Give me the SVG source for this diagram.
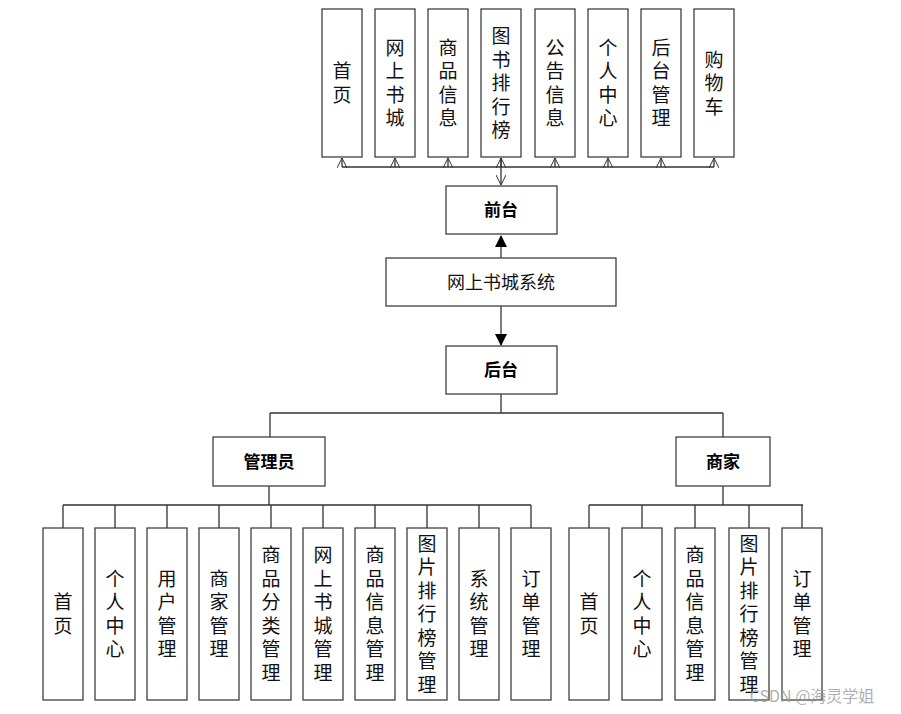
<svg xmlns="http://www.w3.org/2000/svg" width="901" height="714" viewBox="0 0 901 714">
<defs>
<style>
rect{fill:#fff;stroke:#404040;stroke-width:1.3}
.v{font-family:"Noto Sans CJK SC","Liberation Sans",sans-serif;font-size:19px;text-anchor:middle;fill:#111}
.b{font-family:"Noto Sans CJK SC","Liberation Sans",sans-serif;font-size:17px;font-weight:bold;text-anchor:middle;fill:#000}
.n{font-family:"Noto Sans CJK SC","Liberation Sans",sans-serif;font-size:18px;text-anchor:middle;fill:#111}
.c line,.c path{stroke:#333;stroke-width:1.3;fill:none}
</style>
<marker id="o" markerWidth="12" markerHeight="10" refX="10" refY="5" orient="auto" markerUnits="userSpaceOnUse"><path d="M0,0L10,5L0,10" fill="none" stroke="#333" stroke-width="1"/></marker>
<marker id="f" markerWidth="12" markerHeight="12" refX="11" refY="6" orient="auto" markerUnits="userSpaceOnUse"><path d="M0,0L12,6L0,12Z" fill="#000"/></marker>
</defs>
<g class="c">
<path d="M342,167H714"/>
<line x1="342" y1="167" x2="342" y2="158" marker-end="url(#o)"/>
<line x1="395" y1="167" x2="395" y2="158" marker-end="url(#o)"/>
<line x1="448" y1="167" x2="448" y2="158" marker-end="url(#o)"/>
<line x1="501" y1="167" x2="501" y2="158" marker-end="url(#o)"/>
<line x1="555" y1="167" x2="555" y2="158" marker-end="url(#o)"/>
<line x1="608" y1="167" x2="608" y2="158" marker-end="url(#o)"/>
<line x1="661" y1="167" x2="661" y2="158" marker-end="url(#o)"/>
<line x1="714" y1="167" x2="714" y2="158" marker-end="url(#o)"/>
<line x1="501" y1="158" x2="501" y2="185" stroke-width="2" marker-end="url(#o)"/>
<line x1="501" y1="258" x2="501" y2="236" stroke="#000" stroke-width="2" marker-end="url(#f)"/>
<line x1="501" y1="306" x2="501" y2="345" stroke="#000" stroke-width="2" marker-end="url(#f)"/>
<path d="M501,394V413M270,413H723M270,413V437M723,413V437"/>
<path d="M269,486V505M63,505H531M63,505V528M115,505V528M167,505V528M219,505V528M271,505V528M323,505V528M375,505V528M427,505V528M479,505V528M531,505V528"/>
<path d="M723,486V505M589,505H803M589,505V528M642,505V528M695,505V528M749,505V528M802,505V528"/>
</g>
<g id="top">
<rect x="322" y="9" width="40" height="148"/><text class="v" x="342" y="78"><tspan x="342">首</tspan><tspan x="342" dy="23.5">页</tspan></text>
<rect x="375" y="9" width="40" height="148"/><text class="v" x="395" y="54.75"><tspan x="395">网</tspan><tspan x="395" dy="23.5">上</tspan><tspan x="395" dy="23.5">书</tspan><tspan x="395" dy="23.5">城</tspan></text>
<rect x="428" y="9" width="40" height="148"/><text class="v" x="448" y="54.75"><tspan x="448">商</tspan><tspan x="448" dy="23.5">品</tspan><tspan x="448" dy="23.5">信</tspan><tspan x="448" dy="23.5">息</tspan></text>
<rect x="481" y="9" width="40" height="148"/><text class="v" x="501" y="43"><tspan x="501">图</tspan><tspan x="501" dy="23.5">书</tspan><tspan x="501" dy="23.5">排</tspan><tspan x="501" dy="23.5">行</tspan><tspan x="501" dy="23.5">榜</tspan></text>
<rect x="535" y="9" width="40" height="148"/><text class="v" x="555" y="54.75"><tspan x="555">公</tspan><tspan x="555" dy="23.5">告</tspan><tspan x="555" dy="23.5">信</tspan><tspan x="555" dy="23.5">息</tspan></text>
<rect x="588" y="9" width="40" height="148"/><text class="v" x="608" y="54.75"><tspan x="608">个</tspan><tspan x="608" dy="23.5">人</tspan><tspan x="608" dy="23.5">中</tspan><tspan x="608" dy="23.5">心</tspan></text>
<rect x="641" y="9" width="40" height="148"/><text class="v" x="661" y="54.75"><tspan x="661">后</tspan><tspan x="661" dy="23.5">台</tspan><tspan x="661" dy="23.5">管</tspan><tspan x="661" dy="23.5">理</tspan></text>
<rect x="694" y="9" width="40" height="148"/><text class="v" x="714" y="66.5"><tspan x="714">购</tspan><tspan x="714" dy="23.5">物</tspan><tspan x="714" dy="23.5">车</tspan></text>
</g>
<g id="qiantai"><rect x="446" y="186" width="111" height="48"/><text class="b" x="501" y="216">前台</text></g>
<g id="system"><rect x="386" y="258" width="230" height="48"/><text class="n" x="501" y="289">网上书城系统</text></g>
<g id="houtai"><rect x="446" y="346" width="111" height="48"/><text class="b" x="501" y="376">后台</text></g>
<g id="admin"><rect x="213" y="437" width="112" height="49"/><text class="b" x="269" y="468">管理员</text></g>
<g id="merchant"><rect x="676" y="437" width="94" height="49"/><text class="b" x="723" y="468">商家</text></g>
<g id="adminItems">
<rect x="43" y="528" width="40" height="172"/><text class="v" x="63" y="609"><tspan x="63">首</tspan><tspan x="63" dy="23.5">页</tspan></text>
<rect x="95" y="528" width="40" height="172"/><text class="v" x="115" y="585.75"><tspan x="115">个</tspan><tspan x="115" dy="23.5">人</tspan><tspan x="115" dy="23.5">中</tspan><tspan x="115" dy="23.5">心</tspan></text>
<rect x="147" y="528" width="40" height="172"/><text class="v" x="167" y="585.75"><tspan x="167">用</tspan><tspan x="167" dy="23.5">户</tspan><tspan x="167" dy="23.5">管</tspan><tspan x="167" dy="23.5">理</tspan></text>
<rect x="199" y="528" width="40" height="172"/><text class="v" x="219" y="585.75"><tspan x="219">商</tspan><tspan x="219" dy="23.5">家</tspan><tspan x="219" dy="23.5">管</tspan><tspan x="219" dy="23.5">理</tspan></text>
<rect x="251" y="528" width="40" height="172"/><text class="v" x="271" y="562.25"><tspan x="271">商</tspan><tspan x="271" dy="23.5">品</tspan><tspan x="271" dy="23.5">分</tspan><tspan x="271" dy="23.5">类</tspan><tspan x="271" dy="23.5">管</tspan><tspan x="271" dy="23.5">理</tspan></text>
<rect x="303" y="528" width="40" height="172"/><text class="v" x="323" y="562.25"><tspan x="323">网</tspan><tspan x="323" dy="23.5">上</tspan><tspan x="323" dy="23.5">书</tspan><tspan x="323" dy="23.5">城</tspan><tspan x="323" dy="23.5">管</tspan><tspan x="323" dy="23.5">理</tspan></text>
<rect x="355" y="528" width="40" height="172"/><text class="v" x="375" y="562.25"><tspan x="375">商</tspan><tspan x="375" dy="23.5">品</tspan><tspan x="375" dy="23.5">信</tspan><tspan x="375" dy="23.5">息</tspan><tspan x="375" dy="23.5">管</tspan><tspan x="375" dy="23.5">理</tspan></text>
<rect x="407" y="528" width="40" height="172"/><text class="v" x="427" y="550.5"><tspan x="427">图</tspan><tspan x="427" dy="23.5">片</tspan><tspan x="427" dy="23.5">排</tspan><tspan x="427" dy="23.5">行</tspan><tspan x="427" dy="23.5">榜</tspan><tspan x="427" dy="23.5">管</tspan><tspan x="427" dy="23.5">理</tspan></text>
<rect x="459" y="528" width="40" height="172"/><text class="v" x="479" y="585.75"><tspan x="479">系</tspan><tspan x="479" dy="23.5">统</tspan><tspan x="479" dy="23.5">管</tspan><tspan x="479" dy="23.5">理</tspan></text>
<rect x="511" y="528" width="40" height="172"/><text class="v" x="531" y="585.75"><tspan x="531">订</tspan><tspan x="531" dy="23.5">单</tspan><tspan x="531" dy="23.5">管</tspan><tspan x="531" dy="23.5">理</tspan></text>
</g>
<g id="merchantItems">
<rect x="569" y="528" width="40" height="172"/><text class="v" x="589" y="609"><tspan x="589">首</tspan><tspan x="589" dy="23.5">页</tspan></text>
<rect x="622" y="528" width="40" height="172"/><text class="v" x="642" y="585.75"><tspan x="642">个</tspan><tspan x="642" dy="23.5">人</tspan><tspan x="642" dy="23.5">中</tspan><tspan x="642" dy="23.5">心</tspan></text>
<rect x="675" y="528" width="40" height="172"/><text class="v" x="695" y="562.25"><tspan x="695">商</tspan><tspan x="695" dy="23.5">品</tspan><tspan x="695" dy="23.5">信</tspan><tspan x="695" dy="23.5">息</tspan><tspan x="695" dy="23.5">管</tspan><tspan x="695" dy="23.5">理</tspan></text>
<rect x="729" y="528" width="40" height="172"/><text class="v" x="749" y="550.5"><tspan x="749">图</tspan><tspan x="749" dy="23.5">片</tspan><tspan x="749" dy="23.5">排</tspan><tspan x="749" dy="23.5">行</tspan><tspan x="749" dy="23.5">榜</tspan><tspan x="749" dy="23.5">管</tspan><tspan x="749" dy="23.5">理</tspan></text>
<rect x="782" y="528" width="40" height="172"/><text class="v" x="802" y="585.75"><tspan x="802">订</tspan><tspan x="802" dy="23.5">单</tspan><tspan x="802" dy="23.5">管</tspan><tspan x="802" dy="23.5">理</tspan></text>
</g>
<text x="812" y="702" font-family="'Noto Sans CJK SC','Liberation Sans',sans-serif" font-size="16" fill="#999" fill-opacity="0.8" text-anchor="middle">CSDN @海灵学姐</text>
</svg>
